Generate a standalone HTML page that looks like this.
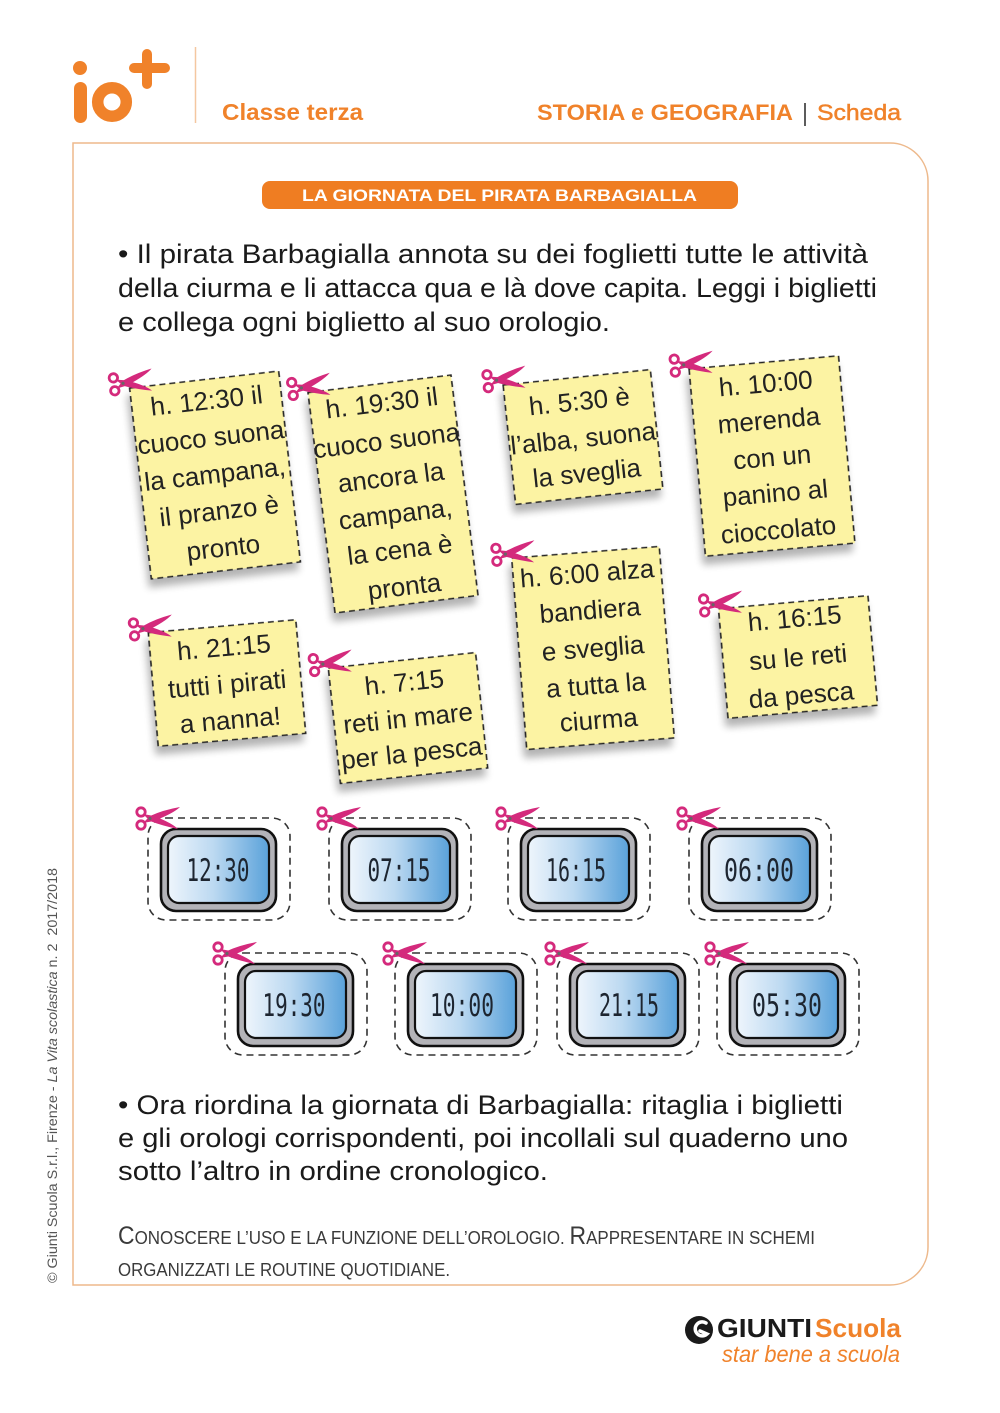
<!DOCTYPE html>
<html><head><meta charset="utf-8">
<style>
html,body{margin:0;padding:0;background:#fff;}
svg{display:block}
text{font-family:"Liberation Sans",sans-serif;}
.nt{font-size:26px;fill:#222;text-anchor:middle;}
.dg{font-family:"DejaVu Sans Mono","Liberation Mono",monospace;font-size:31px;fill:#1d2530;text-anchor:middle;}
</style></head><body>
<svg width="1000" height="1413" viewBox="0 0 1000 1413" xmlns="http://www.w3.org/2000/svg">
<defs>
 <linearGradient id="scr" x1="0" y1="0" x2="1" y2="0">
   <stop offset="0" stop-color="#eef5fc"/>
   <stop offset="0.45" stop-color="#bcd9f1"/>
   <stop offset="1" stop-color="#5aa2da"/>
 </linearGradient>
 <filter id="sh" x="-25%" y="-25%" width="150%" height="150%">
   <feGaussianBlur in="SourceAlpha" stdDeviation="4"/>
   <feOffset dx="-3" dy="8"/>
   <feComponentTransfer><feFuncA type="linear" slope="0.3"/></feComponentTransfer>
   <feMerge><feMergeNode/><feMergeNode in="SourceGraphic"/></feMerge>
 </filter>
 <g id="sc">
   <path d="M8,17 L15,10 Q28,4 45,1 Q39,7 19,15 Z" fill="#d42a7c"/>
   <path d="M8,8 L15,15 Q28,20 43,23 Q37,17 19,10 Z" fill="#d42a7c"/>
   <circle cx="6" cy="6" r="4.2" fill="#fff" stroke="#d42a7c" stroke-width="2.8"/>
   <circle cx="6" cy="19" r="4.2" fill="#fff" stroke="#d42a7c" stroke-width="2.8"/>
   <circle cx="15" cy="12.5" r="1.6" fill="#666"/>
 </g>
</defs>

<!-- header logo -->
<circle cx="80" cy="68" r="7" fill="#f0822a"/>
<rect x="74" y="82" width="13" height="41" rx="6.5" fill="#f0822a"/>
<circle cx="112" cy="102" r="14.3" fill="none" stroke="#f0822a" stroke-width="11.5"/>
<rect x="142" y="49" width="10" height="40" rx="5" fill="#f0822a"/>
<rect x="129" y="63" width="41" height="10" rx="5" fill="#f0822a"/>
<line x1="195.5" y1="47" x2="195.5" y2="123" stroke="#f4c7a0" stroke-width="1.5"/>
<text x="222" y="120" font-size="23" font-weight="bold" fill="#f0822a" textLength="141" lengthAdjust="spacingAndGlyphs">Classe terza</text>
<text x="537" y="120" font-size="22" font-weight="bold" fill="#f0822a" textLength="256" lengthAdjust="spacingAndGlyphs">STORIA e GEOGRAFIA</text>
<line x1="805" y1="103" x2="805" y2="126" stroke="#333" stroke-width="1.6"/>
<text x="817" y="120" font-size="22" fill="#f0822a" stroke="#f0822a" stroke-width="0.5" textLength="84" lengthAdjust="spacingAndGlyphs">Scheda</text>

<!-- frame -->
<path d="M73,143 H890 A38,38 0 0 1 928,181 V1247 A38,38 0 0 1 890,1285 H73 Z" fill="none" stroke="#edb98c" stroke-width="1.5"/>

<!-- title pill -->
<rect x="262" y="181" width="476" height="28" rx="8" fill="#ef7d22"/>
<text x="302" y="201" font-size="17" font-weight="bold" fill="#fff" textLength="395" lengthAdjust="spacingAndGlyphs">LA GIORNATA DEL PIRATA BARBAGIALLA</text>

<!-- paragraph 1 -->
<g font-size="26.5" fill="#1a1a1a">
<text x="118" y="263" textLength="750" lengthAdjust="spacingAndGlyphs">• Il pirata Barbagialla annota su dei foglietti tutte le attività</text>
<text x="118" y="297" textLength="759" lengthAdjust="spacingAndGlyphs">della ciurma e li attacca qua e là dove capita. Leggi i biglietti</text>
<text x="118" y="331" textLength="492" lengthAdjust="spacingAndGlyphs">e collega ogni biglietto al suo orologio.</text>
</g>

<!-- notes -->
<g transform="translate(215,475) rotate(-6.5)">
 <rect x="-75" y="-96" width="150" height="192" fill="#fcf3a3" stroke="#222" stroke-width="1.6" stroke-dasharray="6 4" filter="url(#sh)"/>
 <text class="nt"><tspan x="0" y="-66">h. 12:30 il</tspan><tspan x="0" y="-29">cuoco suona</tspan><tspan x="0" y="8">la campana,</tspan><tspan x="0" y="45">il pranzo è</tspan><tspan x="0" y="82">pronto</tspan></text>
 <use href="#sc" x="-96" y="-114"/>
</g>
<g transform="translate(393,494) rotate(-7)">
 <rect x="-72" y="-111" width="144" height="222" fill="#fcf3a3" stroke="#222" stroke-width="1.6" stroke-dasharray="6 4" filter="url(#sh)"/>
 <text class="nt"><tspan x="0" y="-83">h. 19:30 il</tspan><tspan x="0" y="-45">cuoco suona</tspan><tspan x="0" y="-8">ancora la</tspan><tspan x="0" y="29">campana,</tspan><tspan x="0" y="65">la cena è</tspan><tspan x="0" y="102">pronta</tspan></text>
 <use href="#sc" x="-93" y="-129"/>
</g>
<g transform="translate(583,437) rotate(-6)">
 <rect x="-74" y="-60" width="148" height="120" fill="#fcf3a3" stroke="#222" stroke-width="1.6" stroke-dasharray="6 4" filter="url(#sh)"/>
 <text class="nt"><tspan x="0" y="-27">h. 5:30 è</tspan><tspan x="0" y="10">l’alba, suona</tspan><tspan x="0" y="45">la sveglia</tspan></text>
 <use href="#sc" x="-95" y="-78"/>
</g>
<g transform="translate(772,456) rotate(-5)">
 <rect x="-75" y="-94" width="150" height="188" fill="#fcf3a3" stroke="#222" stroke-width="1.6" stroke-dasharray="6 4" filter="url(#sh)"/>
 <text class="nt"><tspan x="0" y="-64">h. 10:00</tspan><tspan x="0" y="-27">merenda</tspan><tspan x="0" y="10">con un</tspan><tspan x="0" y="46">panino al</tspan><tspan x="0" y="83">cioccolato</tspan></text>
 <use href="#sc" x="-95" y="-111"/>
</g>
<g transform="translate(593,648) rotate(-4.5)">
 <rect x="-74" y="-96" width="148" height="192" fill="#fcf3a3" stroke="#222" stroke-width="1.6" stroke-dasharray="6 4" filter="url(#sh)"/>
 <text class="nt"><tspan x="0" y="-66">h. 6:00 alza</tspan><tspan x="0" y="-29">bandiera</tspan><tspan x="0" y="9">e sveglia</tspan><tspan x="0" y="46">a tutta la</tspan><tspan x="0" y="81">ciurma</tspan></text>
 <use href="#sc" x="-95" y="-113"/>
</g>
<g transform="translate(798,657) rotate(-5)">
 <rect x="-75" y="-55" width="150" height="110" fill="#fcf3a3" stroke="#222" stroke-width="1.6" stroke-dasharray="6 4" filter="url(#sh)"/>
 <text class="nt"><tspan x="0" y="-30">h. 16:15</tspan><tspan x="0" y="9">su le reti</tspan><tspan x="0" y="47">da pesca</tspan></text>
 <use href="#sc" x="-95" y="-72"/>
</g>
<g transform="translate(227,683) rotate(-5)">
 <rect x="-74" y="-57" width="148" height="114" fill="#fcf3a3" stroke="#222" stroke-width="1.6" stroke-dasharray="6 4" filter="url(#sh)"/>
 <text class="nt"><tspan x="0" y="-27">h. 21:15</tspan><tspan x="0" y="10">tutti i pirati</tspan><tspan x="0" y="46">a nanna!</tspan></text>
 <use href="#sc" x="-94" y="-74"/>
</g>
<g transform="translate(408,718) rotate(-6)">
 <rect x="-74" y="-58" width="148" height="116" fill="#fcf3a3" stroke="#222" stroke-width="1.6" stroke-dasharray="6 4" filter="url(#sh)"/>
 <text class="nt"><tspan x="0" y="-27">h. 7:15</tspan><tspan x="0" y="9">reti in mare</tspan><tspan x="0" y="44">per la pesca</tspan></text>
 <use href="#sc" x="-94" y="-75"/>
</g>

<!-- clocks row 1 -->
<g transform="translate(148,818)">
 <rect x="0" y="0" width="142" height="102" rx="18" fill="none" stroke="#333" stroke-width="1.6" stroke-dasharray="7 5"/>
 <rect x="13" y="11" width="115" height="82" rx="15" fill="#b3b3b8" stroke="#111" stroke-width="2.6"/>
 <rect x="20" y="18" width="101" height="67" rx="11" fill="url(#scr)" stroke="#111" stroke-width="2.2"/>
 <text class="dg" x="70" y="63" textLength="63" lengthAdjust="spacingAndGlyphs">12:30</text>
 <use href="#sc" x="-13" y="-12"/>
</g>
<g transform="translate(329,818)">
 <rect x="0" y="0" width="142" height="102" rx="18" fill="none" stroke="#333" stroke-width="1.6" stroke-dasharray="7 5"/>
 <rect x="13" y="11" width="115" height="82" rx="15" fill="#b3b3b8" stroke="#111" stroke-width="2.6"/>
 <rect x="20" y="18" width="101" height="67" rx="11" fill="url(#scr)" stroke="#111" stroke-width="2.2"/>
 <text class="dg" x="70" y="63" textLength="63" lengthAdjust="spacingAndGlyphs">07:15</text>
 <use href="#sc" x="-13" y="-12"/>
</g>
<g transform="translate(508,818)">
 <rect x="0" y="0" width="142" height="102" rx="18" fill="none" stroke="#333" stroke-width="1.6" stroke-dasharray="7 5"/>
 <rect x="13" y="11" width="115" height="82" rx="15" fill="#b3b3b8" stroke="#111" stroke-width="2.6"/>
 <rect x="20" y="18" width="101" height="67" rx="11" fill="url(#scr)" stroke="#111" stroke-width="2.2"/>
 <text class="dg" x="68" y="63" textLength="60" lengthAdjust="spacingAndGlyphs">16:15</text>
 <use href="#sc" x="-13" y="-12"/>
</g>
<g transform="translate(689,818)">
 <rect x="0" y="0" width="142" height="102" rx="18" fill="none" stroke="#333" stroke-width="1.6" stroke-dasharray="7 5"/>
 <rect x="13" y="11" width="115" height="82" rx="15" fill="#b3b3b8" stroke="#111" stroke-width="2.6"/>
 <rect x="20" y="18" width="101" height="67" rx="11" fill="url(#scr)" stroke="#111" stroke-width="2.2"/>
 <text class="dg" x="70" y="63" textLength="70" lengthAdjust="spacingAndGlyphs">06:00</text>
 <use href="#sc" x="-13" y="-12"/>
</g>

<!-- clocks row 2 -->
<g transform="translate(225,953)">
 <rect x="0" y="0" width="142" height="102" rx="18" fill="none" stroke="#333" stroke-width="1.6" stroke-dasharray="7 5"/>
 <rect x="13" y="11" width="115" height="82" rx="15" fill="#b3b3b8" stroke="#111" stroke-width="2.6"/>
 <rect x="20" y="18" width="101" height="67" rx="11" fill="url(#scr)" stroke="#111" stroke-width="2.2"/>
 <text class="dg" x="69" y="63" textLength="63" lengthAdjust="spacingAndGlyphs">19:30</text>
 <use href="#sc" x="-13" y="-12"/>
</g>
<g transform="translate(395,953)">
 <rect x="0" y="0" width="142" height="102" rx="18" fill="none" stroke="#333" stroke-width="1.6" stroke-dasharray="7 5"/>
 <rect x="13" y="11" width="115" height="82" rx="15" fill="#b3b3b8" stroke="#111" stroke-width="2.6"/>
 <rect x="20" y="18" width="101" height="67" rx="11" fill="url(#scr)" stroke="#111" stroke-width="2.2"/>
 <text class="dg" x="67" y="63" textLength="64" lengthAdjust="spacingAndGlyphs">10:00</text>
 <use href="#sc" x="-13" y="-12"/>
</g>
<g transform="translate(557,953)">
 <rect x="0" y="0" width="142" height="102" rx="18" fill="none" stroke="#333" stroke-width="1.6" stroke-dasharray="7 5"/>
 <rect x="13" y="11" width="115" height="82" rx="15" fill="#b3b3b8" stroke="#111" stroke-width="2.6"/>
 <rect x="20" y="18" width="101" height="67" rx="11" fill="url(#scr)" stroke="#111" stroke-width="2.2"/>
 <text class="dg" x="72" y="63" textLength="60" lengthAdjust="spacingAndGlyphs">21:15</text>
 <use href="#sc" x="-13" y="-12"/>
</g>
<g transform="translate(717,953)">
 <rect x="0" y="0" width="142" height="102" rx="18" fill="none" stroke="#333" stroke-width="1.6" stroke-dasharray="7 5"/>
 <rect x="13" y="11" width="115" height="82" rx="15" fill="#b3b3b8" stroke="#111" stroke-width="2.6"/>
 <rect x="20" y="18" width="101" height="67" rx="11" fill="url(#scr)" stroke="#111" stroke-width="2.2"/>
 <text class="dg" x="70" y="63" textLength="70" lengthAdjust="spacingAndGlyphs">05:30</text>
 <use href="#sc" x="-13" y="-12"/>
</g>

<!-- paragraph 2 -->
<g font-size="26.5" fill="#1a1a1a">
<text x="118" y="1114" textLength="725" lengthAdjust="spacingAndGlyphs">• Ora riordina la giornata di Barbagialla: ritaglia i biglietti</text>
<text x="118" y="1147" textLength="730" lengthAdjust="spacingAndGlyphs">e gli orologi corrispondenti, poi incollali sul quaderno uno</text>
<text x="118" y="1180" textLength="430" lengthAdjust="spacingAndGlyphs">sotto l’altro in ordine cronologico.</text>
</g>

<!-- small caps objective -->
<g fill="#3a3a3a">
<text x="118" y="1244" textLength="697" lengthAdjust="spacingAndGlyphs"><tspan font-size="25">C</tspan><tspan font-size="18.5">ONOSCERE L’USO E LA FUNZIONE DELL’OROLOGIO. </tspan><tspan font-size="25">R</tspan><tspan font-size="18.5">APPRESENTARE IN SCHEMI</tspan></text>
<text x="118" y="1276" font-size="18.5" textLength="332" lengthAdjust="spacingAndGlyphs">ORGANIZZATI LE ROUTINE QUOTIDIANE.</text>
</g>

<!-- side copyright -->
<text transform="translate(57,1283) rotate(-90)" font-size="13.5" fill="#555" textLength="415" lengthAdjust="spacingAndGlyphs">© Giunti Scuola S.r.l., Firenze - <tspan font-style="italic">La Vita scolastica</tspan> n. 2&#160; 2017/2018</text>

<!-- footer logo -->
<circle cx="699" cy="1330" r="14" fill="#1a1a1a"/>
<path d="M706,1323 A7,7 0 1 0 707,1334 L700,1331" fill="none" stroke="#fff" stroke-width="3.5" stroke-linecap="round"/>
<text x="717" y="1337" font-size="26" font-weight="bold" fill="#1a1a1a" textLength="95" lengthAdjust="spacingAndGlyphs">GIUNTI</text>
<text x="815" y="1337" font-size="26" font-weight="bold" fill="#f0822a" textLength="86" lengthAdjust="spacingAndGlyphs">Scuola</text>
<text x="722" y="1362" font-family="Liberation Serif, serif" font-style="italic" font-size="23" fill="#f0822a" textLength="178" lengthAdjust="spacingAndGlyphs">star bene a scuola</text>
</svg>
</body></html>
